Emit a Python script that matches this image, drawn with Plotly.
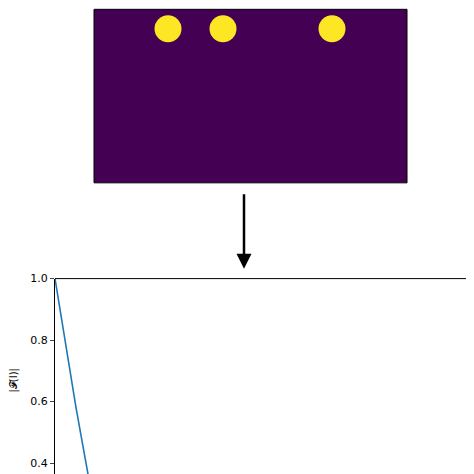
import plotly.graph_objects as go

W = H = 474
# top image: blob centres (image pixel coords)
blob_x = [74, 129, 238]
blob_y = [15, 15, 15]
# bottom plot
x_vals = [0, 1, 2, 3, 4]
y_vals = [1.0, 0.58, 0.2, 0.05, 0.0]
y_ticks = [0.4, 0.6, 0.8, 1.0]

fig = go.Figure()
fig.add_trace(go.Scatter(x=blob_x, y=blob_y, mode="markers", xaxis="x2", yaxis="y2",
                         marker=dict(size=27, color="#fde725", line=dict(width=0)), showlegend=False))
fig.add_trace(go.Scatter(x=x_vals, y=y_vals, mode="lines", line=dict(color="#1f77b4", width=1.6),
                         showlegend=False, cliponaxis=True))

def px(v): return v / W
fig.update_layout(
    width=W, height=H, margin=dict(l=0, r=0, t=0, b=0),
    paper_bgcolor="white", plot_bgcolor="white",
    xaxis=dict(domain=[px(47), px(468)], range=[0, 20], showticklabels=False, showgrid=False,
               zeroline=False, showline=False),
    yaxis=dict(domain=[0, 1 - px(268)], range=[1 - (474 - 268) / 311.5, 1.0], tickvals=y_ticks,
               ticktext=["0.4", "0.6", "0.8", "1.0"], ticks="outside", ticklen=4, showgrid=False,
               zeroline=False, showline=True, linecolor="black", linewidth=1,
               tickfont=dict(family="DejaVu Sans", size=11, color="black"),
               title=dict(text="|𝓕(I)|", font=dict(family="DejaVu Sans", size=10, color="black"), standoff=10)),
    xaxis2=dict(domain=[px(86), px(399)], range=[0, 313], visible=False, anchor="y2"),
    yaxis2=dict(domain=[1 - px(171), 1], range=[171, 0], visible=False, anchor="x2"),
    shapes=[
        dict(type="rect", xref="paper", yref="paper", x0=px(86), x1=px(399), y0=1 - px(171), y1=1.01,
             fillcolor="#440154", line=dict(color="black", width=1), layer="below"),
        dict(type="line", xref="paper", yref="paper", x0=px(47), x1=px(468), y0=1 - px(268), y1=1 - px(268),
             line=dict(color="black", width=1)),
        dict(type="line", xref="paper", yref="paper", x0=px(468), x1=px(468), y0=0, y1=1 - px(268),
             line=dict(color="black", width=1)),
    ],
    annotations=[dict(xref="paper", yref="paper", x=px(236), y=1 - px(258), ax=0, ay=-76,
                      axref="pixel", ayref="pixel", showarrow=True, arrowhead=2, arrowsize=1.2,
                      arrowwidth=2.5, arrowcolor="black", text="")],
)
fig.write_html("out.html")
